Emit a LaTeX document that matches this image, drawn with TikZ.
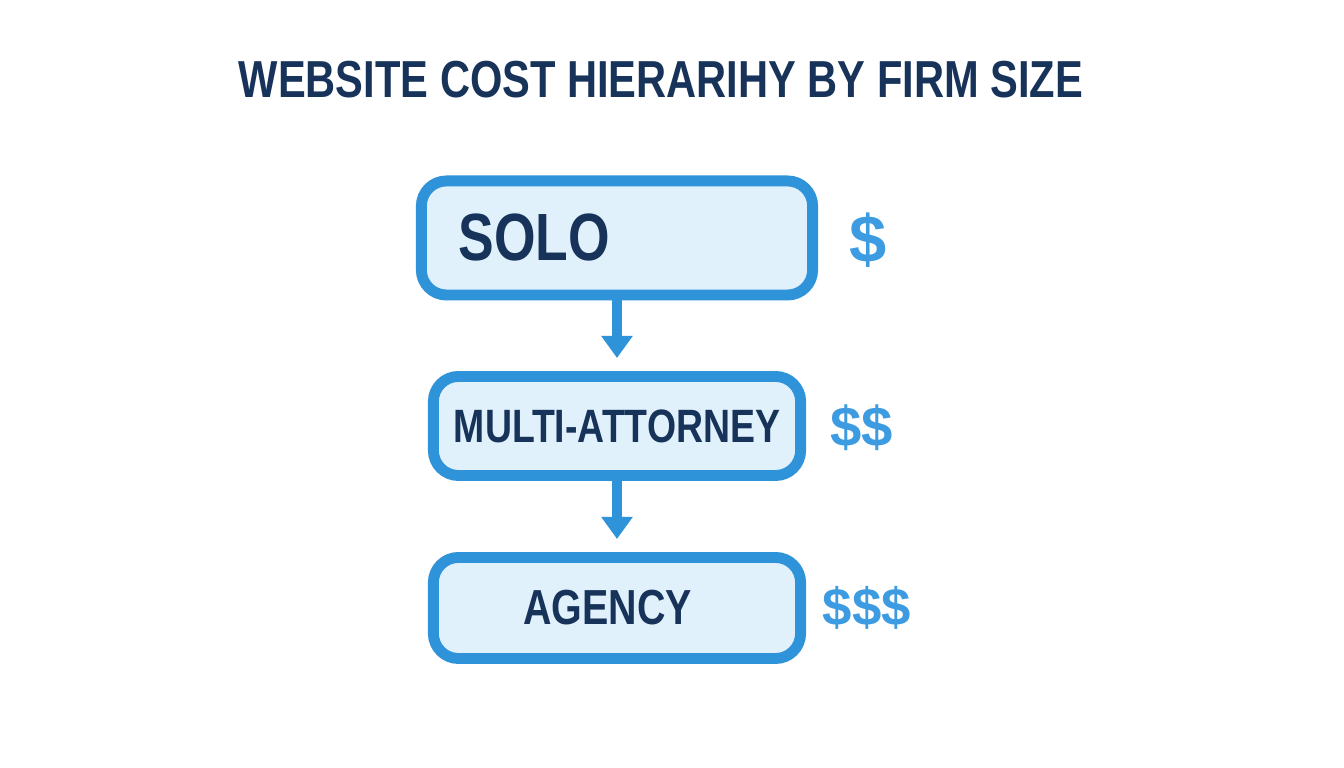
\documentclass[tikz,border=0pt]{standalone}
\usepackage{fontspec}
\setmainfont{Liberation Sans}
\newfontfamily\narrowfont[FakeStretch=0.8]{Liberation Sans}
\usetikzlibrary{arrows.meta}
\usepackage{xcolor}
\definecolor{boxblue}{HTML}{2F93D9}
\definecolor{boxfill}{HTML}{E0F1FC}
\definecolor{navy}{HTML}{17335A}
\definecolor{dollarblue}{HTML}{3D9BE2}

\begin{document}
\begin{tikzpicture}[x=0.01cm,y=-0.01cm,
    tierbox/.style={draw=boxblue,fill=boxfill,line width=3.1pt,rounded corners=0.25cm,
      text=navy,font=\narrowfont\bfseries\fontsize{13.3}{15}\selectfont,
      minimum width=3.67cm,minimum height=0.99cm},
    price/.style={text=dollarblue,font=\bfseries\fontsize{16}{18}\selectfont},
    flow/.style={draw=boxblue,line width=2.6pt,
      -{Triangle[width=0.3cm,length=0.22cm]},shorten >=0.13cm}]
        \useasboundingbox[fill=white] (0,0) rectangle (1344,768);

        \node[text=navy,font=\narrowfont\bfseries\fontsize{14.8}{17}\selectfont] (title) at (661,80) {WEBSITE COST HIERARIHY BY FIRM SIZE};

        \node[tierbox,minimum width=3.91cm,minimum height=1.14cm,inner xsep=0.37cm,
          text width=3.17cm,align=left,font=\narrowfont\bfseries\fontsize{19}{22}\selectfont] (solo) at (617,238) {SOLO};
        \node[tierbox] (multi) at (617,426) {MULTI-ATTORNEY};
        \node[tierbox,minimum height=1.01cm,font=\narrowfont\bfseries\fontsize{14}{17}\selectfont] (agency) at (617,608) {AGENCY\hspace*{0.19cm}};

        \node[price,font=\bfseries\fontsize{19}{22}\selectfont] (cost1) at (868,240) {\$};
        \node[price] (cost2) at (862,428) {\$\$};
        \node[price,font=\bfseries\fontsize{15}{18}\selectfont] (cost3) at (867,608) {\$\$\$};

        \draw[flow] (solo) -- (multi);
        \draw[flow] (multi) -- (agency);
      \end{tikzpicture}
\end{document}
